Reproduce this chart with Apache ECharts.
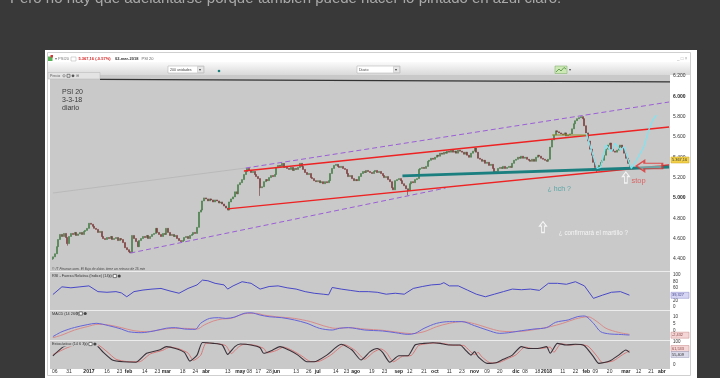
<!DOCTYPE html>
<html><head><meta charset="utf-8">
<script src="https://cdn.jsdelivr.net/npm/echarts@6/dist/echarts.min.js"></script>
<style>html,body{margin:0;padding:0;background:#393939;}#c{width:720px;height:378px;}</style>
</head><body><div id="c"></div>
<script>
// ---------- DATA ----------
const slotCount = 343;            // trading-day slots on the time axis (data + empty space to April)
const firstOpen = 4400;
const closes = [
4420,4450,4520,4590,4640,4620,4650,4610,4550,4620,
4650,4640,4660,4630,4645,4660,4640,4670,4680,4700,
4750,4740,4720,4700,4690,4660,4670,4620,4600,4590,
4610,4600,4620,4590,4600,4610,4580,4600,4590,4560,
4510,4490,4470,4460,4630,4600,4570,4520,4580,4600,
4620,4610,4630,4600,4620,4640,4650,4700,4660,4640,
4620,4650,4640,4700,4660,4630,4640,4620,4630,4600,
4580,4570,4580,4610,4620,4600,4630,4640,4660,4650,
4710,4860,4880,4970,5000,4990,4970,4990,4980,4960,
4980,4970,4950,4960,4940,4920,4900,4880,4960,4990,
5010,5060,5040,5130,5150,5180,5230,5260,5290,5270,
5250,5260,5230,5210,5190,5100,5110,5160,5180,5170,
5200,5220,5210,5230,5300,5320,5310,5340,5300,5310,
5290,5280,5300,5270,5290,5280,5300,5340,5310,5280,
5250,5230,5240,5200,5190,5170,5160,5170,5150,5160,
5140,5160,5150,5170,5240,5290,5320,5330,5310,5300,
5310,5290,5280,5240,5210,5220,5190,5170,5180,5170,
5210,5240,5260,5250,5270,5260,5250,5240,5260,5270,
5250,5260,5240,5220,5200,5210,5180,5160,5100,5080,
5170,5180,5190,5170,5140,5120,5090,5070,5140,5160,
5150,5180,5190,5280,5290,5300,5290,5310,5360,5370,
5390,5380,5400,5420,5410,5440,5430,5450,5440,5460,
5450,5470,5450,5460,5440,5470,5460,5450,5430,5450,
5420,5400,5440,5460,5490,5450,5390,5380,5360,5370,
5340,5350,5320,5330,5290,5240,5260,5290,5300,5290,
5310,5290,5300,5310,5300,5340,5370,5380,5400,5390,
5410,5390,5400,5380,5370,5360,5380,5360,5400,5420,
5410,5390,5380,5370,5360,5380,5500,5570,5620,5660,
5650,5640,5630,5620,5640,5610,5620,5630,5680,5730,
5760,5780,5790,5800,5780,5710,5640,5560,5480,5420,
5350,5300,5270,5320,5350,5370,5420,5480,5520,5540,
5480,5460,5450,5470,5500,5520,5490,5440,5390,5340,
5367];
const wickSlots = [0, 8, 115, 197, 302, 320];
const wickLows  = [4390, 4530, 5020, 5025, 5250, 5300];

const xTickSlots = [1,9,20,30,37,42,51,58,63,72,79,85,97,104,109,114,120,124,135,142,147,157,163,168,177,184,192,198,206,212,220,227,234,241,248,257,262,269,274,283,290,296,301,309,318,325,332,338];
const xTickLabels = ['06','31','2017','16','23','feb','14','23','mar','18','24','abr','13','may','08','17','28','jun','13','26','jul','14','23','ago','19','23','sep','12','21','oct','11','23','nov','09','20','dic','08','18','2018','11','22','feb','09','20','mar','12','21','abr'];
const boldTicks = ['2017','2018','feb','mar','abr','may','jun','jul','ago','sep','oct','nov','dic'];

// trend lines drawn on the picture, as [slot, price]
const faintLine   = [[0,5048],[107,5294]];
const purpleUpper = [[107,5294],[342,5944]];
const purpleLower = [[43,4457],[218,5097]];
const redUpper    = [[106,5265],[342,5698]];
const redLower    = [[97,4891],[342,5324]];
const tealLine    = [[194,5216],[342,5304]];
const oliveLine   = [[277,5619],[297,5619]];
const cyanPath    = [[296,5636],[300,5406],[302,5291],[304,5300],[307,5521],[310,5455],[312,5537],[315,5471],[317,5504],[319,5390],[321,5291],[324,5373],[328,5504],[331,5685],[333,5767],[335,5816]];

// indicators, as [slot, value]
const rsi = [[0,39],[5,63],[10,60],[15,63],[20,66],[25,48],[30,46],[35,48],[38,44],[41,32],[45,48],[50,53],[55,56],[60,58],[65,50],[70,43],[75,58],[80,69],[83,84],[86,82],[90,74],[95,69],[97,56],[100,66],[105,79],[108,76],[110,74],[115,56],[120,64],[125,66],[130,60],[135,56],[140,48],[145,43],[150,40],[153,38],[155,61],[160,56],[165,52],[170,48],[175,48],[180,46],[185,40],[190,43],[195,40],[200,58],[205,64],[210,69],[215,71],[217,76],[220,66],[225,66],[230,53],[235,40],[240,32],[245,40],[250,48],[255,56],[260,54],[265,56],[270,52],[275,74],[280,74],[285,71],[290,79],[295,66],[300,27],[305,37],[310,46],[315,48],[320,37]];
const macdLine = [[0,-4],[5,-0.5],[12,2.5],[19,4.5],[24,5.5],[31,3.8],[38,1.4],[42,-0.5],[49,-1.2],[56,0],[63,2],[68,2.4],[73,1.4],[79,1.2],[82,5.5],[87,9],[92,9.5],[96,9],[101,10],[106,12.6],[110,13],[115,11.4],[120,10.2],[127,9.5],[134,7.9],[141,5.5],[148,1.9],[155,0.7],[159,1.9],[164,2.4],[173,0.7],[183,0],[190,-1.2],[197,-2.4],[201,-1.7],[206,1.9],[213,5.5],[220,6.7],[227,6.7],[234,3.8],[241,0.7],[248,-1.7],[253,-1.2],[260,0.2],[267,1.4],[274,2.4],[279,6.2],[286,7.9],[291,10.2],[295,10.7],[300,5.5],[304,-0.5],[309,-2.1],[314,-2.4],[320,-2.9]];
const macdSignal = [[0,-4.8],[5,-2.9],[12,0.7],[19,3.1],[25,4.8],[31,4.3],[38,2.4],[45,0.2],[52,-0.5],[59,0.7],[66,1.9],[73,1.9],[80,1.4],[84,4.3],[89,7.1],[94,8.6],[99,9],[103,11],[108,12.6],[113,12.6],[117,11.4],[124,10.2],[134,9],[143,6.7],[150,3.8],[157,1.9],[164,2.4],[173,1.4],[183,0.5],[192,-1],[199,-1.9],[206,-0.5],[213,3.1],[220,5.5],[227,6.7],[234,5.2],[241,2.4],[248,0],[255,-0.5],[262,0],[269,1.4],[276,3.1],[283,5.5],[290,8.6],[297,10.2],[302,6.7],[307,1.9],[314,-1],[320,-2.4]];
const stochK = [[0,40],[6,80],[12,95],[18,97],[24,87],[28,55],[33,22],[39,14],[46,12],[52,51],[59,65],[63,80],[68,72],[73,55],[76,17],[80,43],[83,98],[89,94],[94,87],[97,46],[101,80],[104,91],[110,87],[115,75],[117,51],[122,65],[126,80],[131,65],[136,43],[141,14],[145,14],[152,43],[160,90],[166,65],[171,22],[176,58],[180,72],[183,55],[187,12],[192,40],[197,40],[201,87],[206,94],[211,97],[215,94],[220,87],[226,87],[229,65],[232,43],[234,58],[236,36],[241,7],[246,10],[250,25],[255,43],[260,80],[264,72],[269,72],[274,80],[276,51],[280,94],[285,87],[290,90],[295,84],[300,36],[303,7],[309,17],[314,43],[318,65],[320,55]];
const stochD = [[0,45],[7,72],[13,90],[19,95],[25,88],[30,58],[35,25],[41,15],[48,14],[54,48],[61,64],[65,78],[70,70],[75,52],[78,20],[82,42],[85,95],[91,93],[96,84],[99,50],[103,78],[106,90],[112,86],[117,72],[119,53],[124,63],[128,78],[133,63],[138,40],[143,15],[147,15],[154,42],[162,88],[168,62],[173,25],[178,56],[182,70],[185,55],[189,14],[194,38],[199,42],[203,85],[208,93],[213,96],[217,93],[222,86],[228,85],[231,64],[234,45],[236,55],[238,36],[243,9],[248,12],[252,26],[257,44],[262,78],[266,72],[271,72],[276,78],[278,55],[282,92],[287,87],[292,89],[297,82],[302,38],[305,10],[311,18],[316,44],[320,62]];

// annotations on the price panel, as [slot, price]
const upArrows   = [[272,4713],[318,5201]];
const leftArrow  = [[331,5314]];
const stopText   = [[325,5166]];
const hchText    = [[281,5088]];
const martilloText = [[300,4654]];

// ---------- CHART ----------
const FF = '"Liberation Sans", Arial, sans-serif';
const chart = echarts.init(document.getElementById('c'), null, {renderer:'canvas', width:720, height:378});
const slots = Array.from({length: slotCount}, (_, i) => String(i));
const candles = closes.map((c, i) => {
  const o = i === 0 ? firstOpen : closes[i - 1];
  let lo = Math.min(o, c), hi = Math.max(o, c);
  const w = wickSlots.indexOf(i);
  if (w >= 0) lo = Math.min(lo, wickLows[w]);
  return [o, c, lo, hi];
});
const tickMap = {};
xTickSlots.forEach((s, i) => tickMap[s] = xTickLabels[i]);
const fmtPrice = v => Math.floor(v / 1000) + '.' + String(v % 1000).padStart(3, '0');

const grids = [
  {left:52, width:618, top:76, height:193},
  {left:52, width:618, top:275, height:32},
  {left:52, width:618, top:310, height:28},
  {left:52, width:618, top:342, height:23}
];
const xAxes = grids.map((g, i) => ({
  type:'category', gridIndex:i, data:slots, boundaryGap:true,
  axisLine:{show:false}, axisTick:{show:false}, splitLine:{show:false},
  axisLabel: i < 3 ? {show:false} : {
    show:true, margin:4.5, fontSize:5, color:'#333', fontFamily:FF,
    interval:(idx) => tickMap[idx] !== undefined,
    formatter:(v, idx) => { const t = tickMap[idx]; if (t === undefined) return ''; return boldTicks.includes(t) ? '{b|' + t + '}' : t; },
    rich:{b:{fontSize:5, fontWeight:'bold', color:'#222', fontFamily:FF}}
  }
}));
const yBase = {type:'value', position:'right', axisLine:{show:false}, axisTick:{show:false}, splitLine:{show:false}};
const yAxes = [
  Object.assign({}, yBase, {gridIndex:0, min:4300, max:6200, interval:100,
    axisLabel:{margin:3, fontSize:5, color:'#333', fontFamily:FF,
      formatter:v => v % 200 === 0 ? (v % 1000 === 0 ? '{b|' + fmtPrice(v) + '}' : fmtPrice(v)) : '',
      rich:{b:{fontSize:5, fontWeight:'bold', color:'#222', fontFamily:FF}}}}),
  Object.assign({}, yBase, {gridIndex:1, min:0, max:100, interval:20,
    axisLabel:{margin:3, fontSize:4.5, color:'#333', fontFamily:FF, formatter:v => v === 40 ? '' : String(v)}}),
  Object.assign({}, yBase, {gridIndex:2, min:-5, max:15, interval:5,
    axisLabel:{margin:3, fontSize:4.5, color:'#333', fontFamily:FF, formatter:v => (v >= 0 && v <= 10) ? String(v) : ''}}),
  Object.assign({}, yBase, {gridIndex:3, min:0, max:100, interval:50,
    axisLabel:{margin:3, fontSize:4.5, color:'#333', fontFamily:FF, formatter:v => v === 50 ? '' : String(v)}})
];

function ln(data, color, width, opts) {
  return Object.assign({type:'line', xAxisIndex:0, yAxisIndex:0, data, symbol:'none', silent:true,
    lineStyle:{color, width}, z:4, animation:false}, opts || {});
}
const upArrowPath = 'path://M5,0L10,5L7,5L7,12L3,12L3,5L0,5Z';
const leftArrowPath = 'path://M0,6L8,0L8,3L26,3L26,9L8,9L8,12Z';
function textPoint(data, text, color, size) {
  return {type:'scatter', xAxisIndex:0, yAxisIndex:0, data, symbolSize:1, silent:true, z:12,
    itemStyle:{color:'rgba(0,0,0,0)'},
    label:{show:true, position:'inside', formatter:text, color, fontSize:size, fontFamily:FF}};
}

const series = [
  {type:'candlestick', xAxisIndex:0, yAxisIndex:0, data:candles, barWidth:1.5, silent:true, z:3,
    itemStyle:{color:'#5faf5f', color0:'#a85454', borderColor:'#3c6b3c', borderColor0:'#6b2f2f', borderWidth:0.6}},
  ln(faintLine, '#aeaeae', 0.6),
  ln(purpleUpper, '#9b5fd6', 1, {lineStyle:{color:'#9b5fd6', width:1, type:[5,3]}}),
  ln(purpleLower, '#9b5fd6', 1, {lineStyle:{color:'#9b5fd6', width:1, type:[5,3]}}),
  ln(redUpper, '#ee2222', 1.4),
  ln(redLower, '#ee2222', 1.3),
  ln(oliveLine, '#8f8f2a', 1.2),
  ln(tealLine, '#1b7f80', 2.8, {z:6}),
  ln(cyanPath, '#80e4f0', 1.3, {z:7}),
  {type:'scatter', xAxisIndex:0, yAxisIndex:0, data:upArrows, symbol:upArrowPath, symbolSize:[7,11], silent:true, z:11,
    itemStyle:{color:'rgba(0,0,0,0)', borderColor:'#ffffff', borderWidth:1.1}},
  {type:'scatter', xAxisIndex:0, yAxisIndex:0, data:leftArrow, symbol:leftArrowPath, symbolSize:[26,11], silent:true, z:11,
    itemStyle:{color:'rgba(200,200,200,0.6)', borderColor:'#e23030', borderWidth:1.4}},
  textPoint(stopText, 'stop', '#e04848', 7.5),
  textPoint(hchText, '¿ hch ?', '#3c9c9c', 7),
  textPoint(martilloText, '¿ confirmará el martillo ?', '#ffffff', 6.3),
  {type:'line', xAxisIndex:1, yAxisIndex:1, data:rsi, symbol:'none', silent:true, lineStyle:{color:'#4848c8', width:1}},
  {type:'line', xAxisIndex:2, yAxisIndex:2, data:macdSignal, symbol:'none', silent:true, smooth:0.3, lineStyle:{color:'#d88a8a', width:1}},
  {type:'line', xAxisIndex:2, yAxisIndex:2, data:macdLine, symbol:'none', silent:true, smooth:0.3, lineStyle:{color:'#6464d8', width:1}},
  {type:'line', xAxisIndex:3, yAxisIndex:3, data:stochD, symbol:'none', silent:true, smooth:0.2, lineStyle:{color:'#d87878', width:1}},
  {type:'line', xAxisIndex:3, yAxisIndex:3, data:stochK, symbol:'none', silent:true, smooth:0.2, lineStyle:{color:'#3a3038', width:1.1}}
];

// ---------- decoration (page, widget frame, headers) ----------
const txt = (x, y, text, fill, size, extra) => ({type:'text', x, y, z:50,
  style:Object.assign({text, fill, fontSize:size, fontFamily:FF, verticalAlign:'middle', align:'left'}, extra || {})});
const G = [];
G.push({type:'text', x:10, y:-8.5, z:1, style:{text:'Pero no hay que adelantarse porque también puede hacer lo pintado en azul claro.', fill:'#a9a9a9', fontSize:15, fontFamily:FF}});
G.push({type:'rect', z:-20, shape:{x:45, y:50, width:652, height:340}, style:{fill:'#ffffff'}});
G.push({type:'rect', z:-19, shape:{x:47.5, y:52.5, width:643, height:323}, style:{fill:'none', stroke:'#cfcfcf', lineWidth:1}});
G.push({type:'rect', z:-18, shape:{x:48, y:62, width:642, height:13},
  style:{fill:new echarts.graphic.LinearGradient(0,0,0,1,[{offset:0,color:'#fbfbfb'},{offset:1,color:'#d9d9d9'}])}});
G.push({type:'rect', z:-17, shape:{x:50, y:75, width:620, height:294}, style:{fill:'#c9c9c9'}});
[271.5, 310.5, 340.5].forEach(y => G.push({type:'line', z:-16, shape:{x1:50, y1:y, x2:670, y2:y}, style:{stroke:'#ececec', lineWidth:1}}));
G.push({type:'polyline', z:-15, shape:{points:[[100,79.3],[670,81.8]]}, style:{stroke:'#333', lineWidth:1.3}});
// header row
G.push({type:'rect', z:40, shape:{x:48, y:56.5, width:4.5, height:4.5}, style:{fill:'#58b358'}});
G.push({type:'rect', z:40, shape:{x:50.5, y:55, width:2.5, height:2.5}, style:{fill:'#d23a3a'}});
G.push(txt(55, 59, '▾ PSI20', '#777', 4));
G.push({type:'rect', z:40, shape:{x:71, y:57, width:5, height:4}, style:{fill:'#fff', stroke:'#aaa', lineWidth:0.5}});
G.push(txt(78.5, 59, '5.367,16 (-0.57%)', '#d42222', 4, {fontWeight:'bold'}));
G.push(txt(115, 59, '02-mar-2018', '#333', 4, {fontWeight:'bold'}));
G.push(txt(141.5, 59, 'PSI 20', '#666', 4));
G.push(txt(677, 59, '_ □ ×', '#aaa', 4.5));
// toolbar
G.push({type:'rect', z:40, shape:{x:168, y:66, width:36, height:7}, style:{fill:'#fff', stroke:'#aaa', lineWidth:0.5}});
G.push(txt(170, 69.5, '200 unidades', '#444', 3.6));
G.push({type:'rect', z:40, shape:{x:197.5, y:66.5, width:6, height:6}, style:{fill:'#e6e6e6', stroke:'#aaa', lineWidth:0.4}});
G.push(txt(199, 69.5, '▾', '#444', 4));
G.push({type:'circle', z:40, shape:{cx:219, cy:71, r:1.3}, style:{fill:'#1f7f7f'}});
G.push({type:'rect', z:40, shape:{x:357, y:66, width:43, height:7}, style:{fill:'#fff', stroke:'#aaa', lineWidth:0.5}});
G.push(txt(359, 69.5, 'Diario', '#444', 3.6));
G.push({type:'rect', z:40, shape:{x:393.5, y:66.5, width:6, height:6}, style:{fill:'#e6e6e6', stroke:'#aaa', lineWidth:0.4}});
G.push(txt(395, 69.5, '▾', '#444', 4));
G.push({type:'rect', z:40, shape:{x:555, y:66, width:12, height:7.5}, style:{fill:'#cbe8b5', stroke:'#7aa860', lineWidth:0.5}});
G.push({type:'polyline', z:41, shape:{points:[[556,72],[559,69],[561,71],[564,67.5],[566,69]]}, style:{stroke:'#3f7f2f', lineWidth:0.7}});
G.push(txt(568.5, 69.5, '▾', '#444', 4));
// "Precio" tab
G.push({type:'rect', z:40, shape:{x:48, y:72.5, width:52, height:6.5}, style:{fill:'#e3e3e3', stroke:'#b5b5b5', lineWidth:0.5}});
G.push(txt(50, 75.8, 'Precio', '#555', 3.6));
G.push({type:'circle', z:41, shape:{cx:64, cy:75.8, r:1.2}, style:{fill:'none', stroke:'#555', lineWidth:0.5}});
G.push({type:'rect', z:41, shape:{x:67, y:74.3, width:3, height:3}, style:{fill:'none', stroke:'#444', lineWidth:0.6}});
G.push({type:'circle', z:41, shape:{cx:73, cy:75.8, r:1.4}, style:{fill:'#555'}});
G.push(txt(76, 75.8, '⊞', '#777', 4));
// annotation text in price panel
G.push(txt(62, 92, 'PSI 20', '#3a3a3a', 7));
G.push(txt(62, 100, '3-3-18', '#3a3a3a', 7));
G.push(txt(62, 108.5, 'diario', '#3a3a3a', 7));
G.push(txt(52, 269, '© IT Finance.com. El flujo de datos tiene un retraso de 15 min', '#444', 3.4, {fontStyle:'italic'}));
// panel headers (opaque, they hide the lines below them)
function header(x, y, text) {
  const w = text.length * 1.62;
  G.push({type:'rect', z:49, shape:{x:x - 1, y:y - 2.6, width:w + 15, height:5.2}, style:{fill:'#c9c9c9'}});
  G.push(txt(x, y, text, '#333', 3.8));
  const ix = x + w + 2;
  G.push({type:'circle', z:51, shape:{cx:ix, cy:y, r:1.2}, style:{fill:'none', stroke:'#444', lineWidth:0.5}});
  G.push({type:'rect', z:51, shape:{x:ix + 2.5, y:y - 1.6, width:3.2, height:3.2}, style:{fill:'#fff', stroke:'#333', lineWidth:0.6}});
  G.push({type:'circle', z:51, shape:{cx:ix + 8.5, cy:y, r:1.6}, style:{fill:'#444'}});
}
header(52, 276, 'RSI - Fuerza Relativa (Índice) (14)');
header(52, 313.5, 'MACD (14 26 9)');
header(52, 344, 'Estocástico (14 6 3)');
// last-value boxes on the right axis
function box(y, text, fill, stroke, color) {
  G.push({type:'rect', z:45, shape:{x:671, y:y - 3, width:18, height:6}, style:{fill, stroke, lineWidth:0.5}});
  G.push(txt(672, y, text, color, 3.9));
}
box(160, '5.367,16', '#f3d24a', '#c8a01e', '#333');
box(295.3, '39,327', '#d6d6f4', '#8686c8', '#44448a');
box(335.2, '-2,432', '#f4d6d6', '#c88686', '#8a4444');
box(348.5, '61,533', '#f4d6d6', '#c88686', '#8a4444');
box(354.5, '55,409', '#dadaea', '#9a9ab8', '#333');

chart.setOption({
  backgroundColor:'#393939',
  animation:false,
  grid:grids,
  xAxis:xAxes,
  yAxis:yAxes,
  series,
  graphic:{elements:G}
});
</script></body></html>
